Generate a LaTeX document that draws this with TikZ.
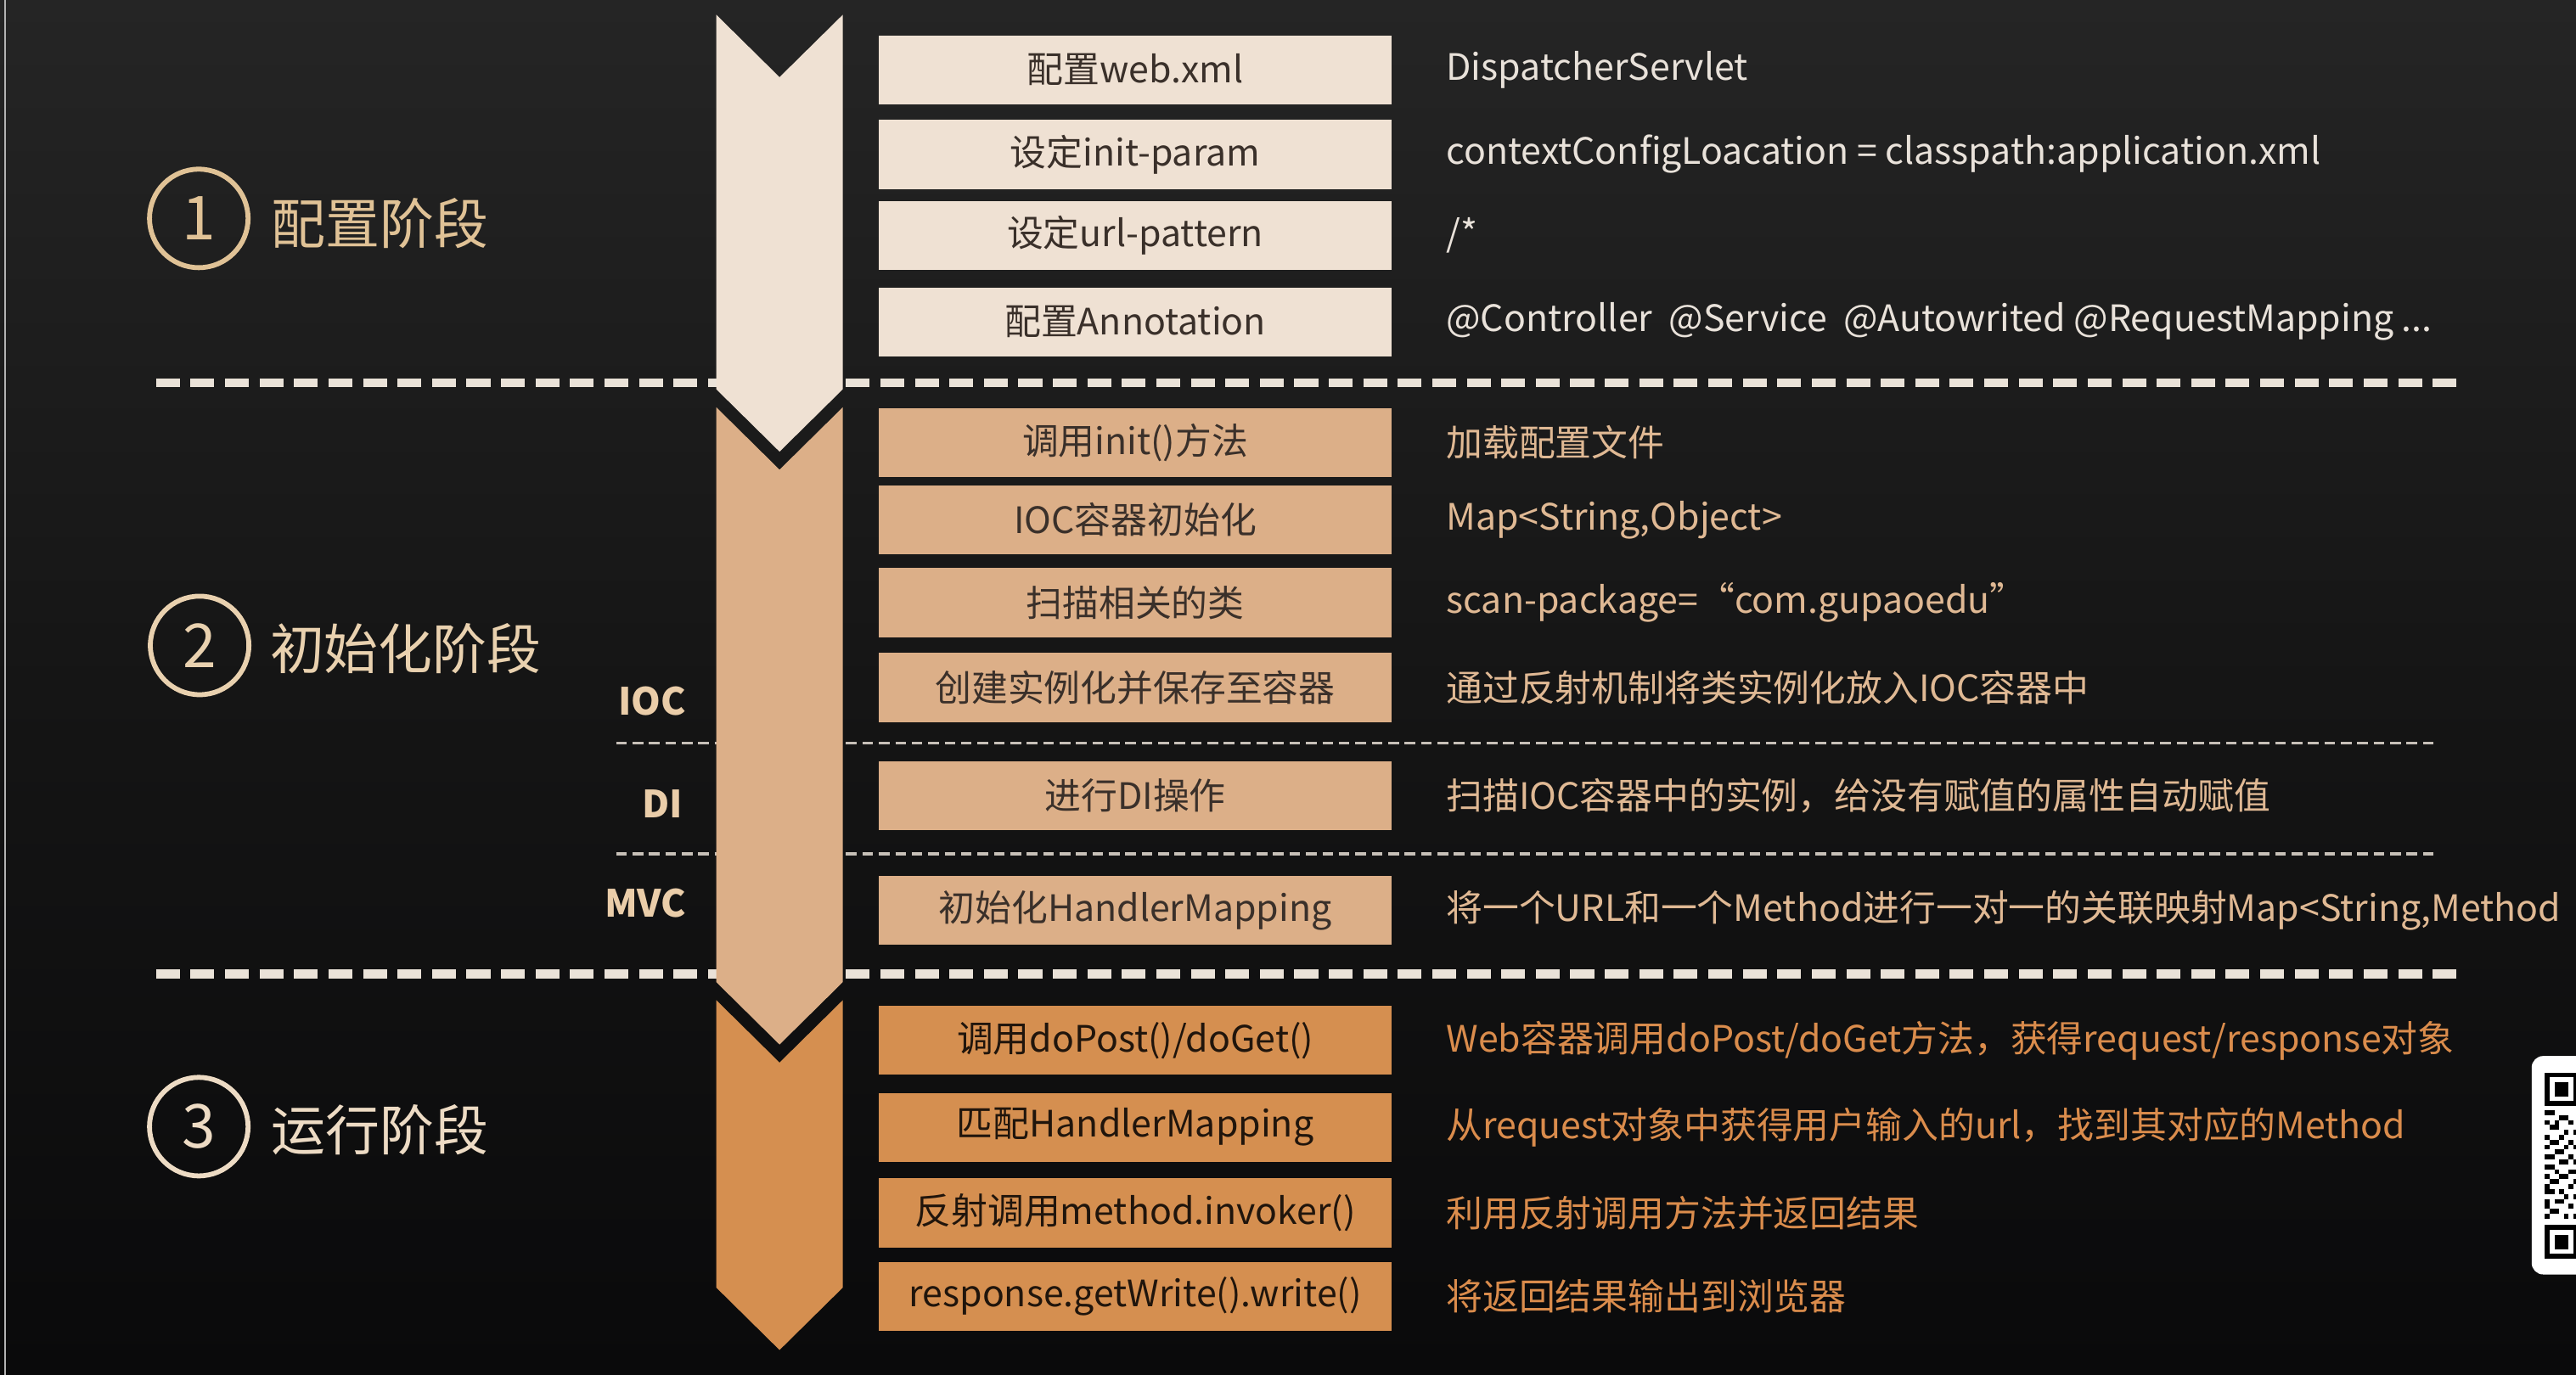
\documentclass[tikz,border=0pt]{standalone}
\usepackage{fontspec}
\setmainfont{Noto Sans CJK SC}
\definecolor{bgtop}{HTML}{252525}
\definecolor{bgmid}{HTML}{151515}
\definecolor{bgbot}{HTML}{0A0A0B}
\definecolor{creamc}{HTML}{EFE1D3}
\definecolor{tanc}{HTML}{DCAF88}
\definecolor{orangec}{HTML}{D58F50}
\definecolor{boxtext}{HTML}{3A302A}
\definecolor{txtone}{HTML}{E9E2DA}
\definecolor{txttwo}{HTML}{E0B994}
\definecolor{txtthree}{HTML}{DA8C4C}
\definecolor{dashc}{HTML}{EAE2D8}
\definecolor{goldone}{HTML}{E0C296}
\definecolor{goldtwo}{HTML}{E9D1AF}
\definecolor{goldthree}{HTML}{EDDBC4}
\definecolor{sublab}{HTML}{EACDA9}
\begin{document}
\begin{tikzpicture}[x=0.02cm,y=-0.02cm,
  stepbox/.style={minimum width=6.24cm, minimum height=0.84cm, inner sep=0pt,
    font=\fontsize{12.6}{14}\selectfont, text=boxtext},
  boxone/.style={stepbox, fill=creamc},
  boxtwo/.style={stepbox, fill=tanc},
  boxthree/.style={stepbox, fill=orangec, text=black!85!orangec},
  desc/.style={anchor=west, inner sep=0pt, font=\fontsize{12.6}{14}\selectfont},
  phasenum/.style={circle, line width=1.7pt, minimum size=1.2cm, inner sep=0pt,
    font=\fontsize{21}{24}\selectfont},
  phasename/.style={anchor=west, inner sep=0pt, font=\fontsize{18.8}{22}\selectfont},
  sublabel/.style={anchor=east, inner sep=0pt, text=sublab,
    font=\bfseries\fontsize{13}{15}\selectfont},
  thickdash/.style={draw=dashc, line width=3.1pt, dash pattern=on 0.29cm off 0.13cm},
  thindash/.style={draw=dashc!85!black, line width=1.1pt, dash pattern=on 0.13cm off 0.07cm}
]
\useasboundingbox (0,0) rectangle (1568,837);
% background
\shade[top color=bgtop, bottom color=bgbot, middle color=bgmid] (0,0) rectangle (1568,837);
\draw[gray!60, line width=0.6pt] (3,0) -- (3,837);

% separators
\draw[thickdash] (95,233) -- (1498,233);
\draw[thickdash] (95,593) -- (1498,593);
\draw[thindash] (375,452.5) -- (1484,452.5);
\draw[thindash] (375,520) -- (1484,520);

% flow arrow
\fill[creamc] (436,9) -- (474.5,47) -- (513,9) -- (513,237) -- (474.5,275) -- (436,237) -- cycle;
\fill[tanc] (436,248) -- (474.5,286) -- (513,248) -- (513,598) -- (474.5,636) -- (436,598) -- cycle;
\fill[orangec] (436,609) -- (474.5,647) -- (513,609) -- (513,784) -- (474.5,822) -- (436,784) -- cycle;

% phase labels
\node[phasenum, draw=goldone, text=goldone] (p1) at (121,133) {1};
\node[phasename, text=goldone] (n1) at (165,136) {配置阶段};
\node[phasenum, draw=goldtwo, text=goldtwo] (p2) at (121.5,393) {2};
\node[phasename, text=goldtwo] (n2) at (164,395) {初始化阶段};
\node[phasenum, draw=goldthree, text=goldthree] (p3) at (121,686) {3};
\node[phasename, text=goldthree] (n3) at (165,688) {运行阶段};

\node[sublabel] (ioc) at (418,427) {IOC};
\node[sublabel] (di) at (416,489.5) {DI};
\node[sublabel] (mvc) at (418,550) {MVC};

% phase 1
\node[boxone] (b1) at (691,42.6) {配置web.xml};
\node[boxone] (b2) at (691,94) {设定init-param};
\node[boxone] (b3) at (691,143.5) {设定url-pattern};
\node[boxone] (b4) at (691,196) {配置Annotation};
\node[desc, text=txtone] (d1) at (880,42.6) {DispatcherServlet};
\node[desc, text=txtone] (d2) at (880,94) {contextConfigLoacation = classpath:application.xml};
\node[desc, text=txtone] (d3) at (880,143.5) {/*};
\node[desc, text=txtone] (d4) at (880,196) {@Controller\ \ @Service\ \ @Autowrited @RequestMapping ...};

% phase 2
\node[boxtwo] (b5) at (691,269.5) {调用init()方法};
\node[boxtwo] (b6) at (691,316.5) {IOC容器初始化};
\node[boxtwo] (b7) at (691,367) {扫描相关的类};
\node[boxtwo] (b8) at (691,418.6) {创建实例化并保存至容器};
\node[boxtwo] (b9) at (691,484.5) {进行DI操作};
\node[boxtwo] (b10) at (691,554.4) {初始化HandlerMapping};
\node[desc, text=txttwo] (d5) at (880,269.5) {加载配置文件};
\node[desc, text=txttwo] (d6) at (880,316.5) {Map<String,Object>};
\node[desc, text=txttwo] (d7) at (880,367) {scan-package=“com.gupaoedu”};
\node[desc, text=txttwo] (d8) at (880,418.6) {通过反射机制将类实例化放入IOC容器中};
\node[desc, text=txttwo] (d9) at (880,484.5) {扫描IOC容器中的实例，给没有赋值的属性自动赋值};
\node[desc, text=txttwo] (d10) at (880,554.4) {将一个URL和一个Method进行一对一的关联映射Map<String,Method};

% phase 3
\node[boxthree] (b11) at (691,633.5) {调用doPost()/doGet()};
\node[boxthree] (b12) at (691,686.4) {匹配HandlerMapping};
\node[boxthree] (b13) at (691,738.5) {反射调用method.invoker()};
\node[boxthree] (b14) at (691,789.4) {response.getWrite().write()};
\node[desc, text=txtthree] (d11) at (880,633.5) {Web容器调用doPost/doGet方法，获得request/response对象};
\node[desc, text=txtthree] (d12) at (880,686.4) {从request对象中获得用户输入的url，找到其对应的Method};
\node[desc, text=txtthree] (d13) at (880,738.5) {利用反射调用方法并返回结果};
\node[desc, text=txtthree] (d14) at (880,789.4) {将返回结果输出到浏览器};

% QR code at the right edge
\fill[white, rounded corners=0.14cm] (1541,643) rectangle (1600,776);
\foreach \yy in {653,746}{
  \fill[black] (1549,\yy) rectangle (1569.3,\yy+20.3);
  \fill[white] (1551.9,\yy+2.9) rectangle (1566.4,\yy+17.4);
  \fill[black] (1554.8,\yy+5.8) rectangle (1563.5,\yy+14.5);
}
\foreach \c/\r in {0/0,1/0,3/1,4/1,0/2,2/2,5/2,1/3,2/3,4/4,6/4,0/5,3/5,1/6,2/6,5/6,0/7,4/7,6/7,2/8,3/8,0/9,1/9,5/9,3/10,4/10,6/10,0/11,1/11,2/12,5/12,6/12,0/13,3/13,4/13,1/14,2/14,6/14,0/15,5/15,0/16,1/16,3/16,4/17,6/17,0/18,2/18,3/18,0/19,5/19,1/20,2/20,0/21,4/21,6/21}{
  \fill[black] (1549+\c*2.9,676+\r*3) rectangle (1549+\c*2.9+2.9,676+\r*3+3);
}
\end{tikzpicture}
\end{document}
